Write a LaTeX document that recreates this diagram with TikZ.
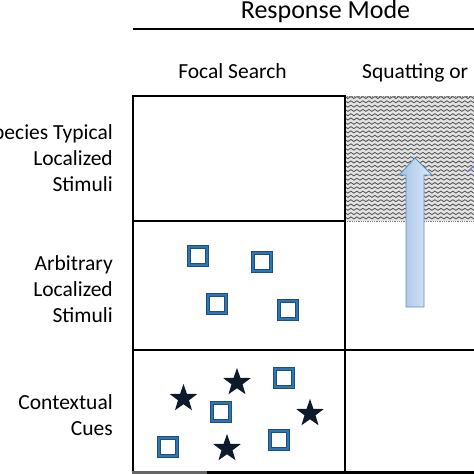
\documentclass[tikz,border=0pt]{standalone}
\usepackage{fontspec}
\setmainfont{Carlito}
\usetikzlibrary{shapes.geometric,decorations.pathmorphing}
\definecolor{sqblue}{HTML}{2E75B6}
\definecolor{sqdark}{HTML}{1F4E79}
\definecolor{starcol}{HTML}{0E1A2B}
\definecolor{arrline}{HTML}{5E8EBF}
\definecolor{arrA}{HTML}{A3C3E6}
\definecolor{arrB}{HTML}{C9DDF2}
\definecolor{arrC}{HTML}{DDEAF8}
\definecolor{wavecol}{HTML}{555555}
\tikzset{
  hdr/.style={inner sep=0pt, font=\fontsize{21.5}{26}\selectfont},
  ttl/.style={inner sep=0pt, font=\fontsize{26}{30}\selectfont},
  rowlbl/.style={inner sep=0pt, anchor=base east, font=\fontsize{21.5}{26}\selectfont},
  gridline/.style={line width=2pt, black},
  sq/.style={rectangle, draw=sqdark, double=sqblue, double distance=2.6pt, line width=0.6pt, minimum size=18.2pt, inner sep=0pt, fill=white},
  star5/.style={star, star points=5, star point ratio=2.5, fill=starcol, draw=none, minimum size=29pt, inner sep=0pt},
  wave/.style={draw=wavecol, line width=0.85pt, decorate, decoration={snake, segment length=6pt, amplitude=1pt}}
}
\begin{document}
\begin{tikzpicture}[x=1pt,y=-1pt]
\useasboundingbox (0,0) rectangle (474,474);
\clip (0,0) rectangle (474,474);
\fill[white] (0,0) rectangle (474,474);

% titles
\node[ttl, anchor=base] (title) at (325.5,18) {Response Mode};
\coordinate (hl) at (133,29);
\coordinate (hr) at (474,29);
\draw[line width=1.6pt] (hl) -- (hr);
\node[hdr, anchor=base] (col1) at (232.5,78) {Focal Search};
\node[hdr, anchor=base west] (col2) at (362,78) {Squatting or};

% row labels
\node[rowlbl] (r1a) at (113,139) {Species Typical};
\node[rowlbl] (r1b) at (113,165) {Localized};
\node[rowlbl] (r1c) at (113,191.5) {Stimuli};
\node[rowlbl] (r2a) at (113,270) {Arbitrary};
\node[rowlbl] (r2b) at (113,296) {Localized};
\node[rowlbl] (r2c) at (113,322) {Stimuli};
\node[rowlbl] (r3a) at (113,409) {Contextual};
\node[rowlbl] (r3b) at (113,435) {Cues};

% patterned cell
\begin{scope}
  \clip (345,96) rectangle (474,221);
  \fill[gray!22] (345,96) rectangle (474,221);
  \foreach \yy in {97.5,101.8,...,222} {
    \draw[wave] (343,\yy) -- (478,\yy);
  }
\end{scope}
\draw[gray, line width=0.8pt, densely dotted] (345,96) -- (474,96);
\draw[gray, line width=0.8pt, densely dotted] (345,221) -- (474,221);

% grid
\draw[gridline] (133,96) -- (345,96);
\draw[gridline] (133,221) -- (345,221);
\draw[gridline] (133,350) -- (474,350);
\draw[gridline] (133,95) -- (133,472);
\draw[gridline] (345,95) -- (345,472);
\draw[line width=3pt, black] (207,472) -- (474,472);
\draw[line width=3pt, gray!80!black] (132,472) -- (207,472);

% arrow
\shadedraw[draw=arrline, line width=0.8pt, left color=arrA, middle color=arrB, right color=arrC]
  (406,307) -- (406,175) -- (399,175) -- (415,158) -- (432,175) -- (424,175) -- (424,307) -- cycle;
\draw[arrline, line width=1.2pt] (467,172) -- (474,166);

% squares row 2
\node[sq] (s1) at (198,256) {};
\node[sq] (s2) at (262,262) {};
\node[sq] (s3) at (217,304) {};
\node[sq] (s4) at (288,310) {};
% row 3
\node[sq] (s5) at (284,378) {};
\node[sq] (s6) at (221,412) {};
\node[sq] (s7) at (168,447) {};
\node[sq] (s8) at (279,440) {};
\node[star5] (t1) at (183.5,398.5) {};
\node[star5] (t2) at (237,382.5) {};
\node[star5] (t3) at (310,413.5) {};
\node[star5] (t4) at (227,448.5) {};
\end{tikzpicture}
\end{document}
